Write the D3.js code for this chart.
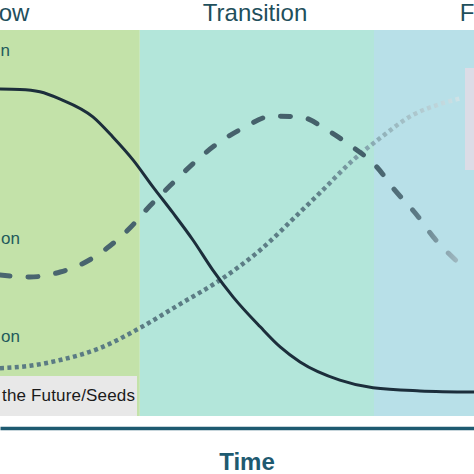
<!DOCTYPE html>
<html><head><meta charset="utf-8">
<script src="https://cdn.jsdelivr.net/npm/d3@7"></script>
<style>html,body{margin:0;padding:0;background:#fff;}svg{display:block;}</style>
</head><body>
<svg id="c" width="474" height="474"></svg>
<script>
// Phases (time domain 0..100 across visible width)
const phaseNames = ["ow", "Transition", "F"];
const phaseStart = [0, 29.5, 78.9];
const phaseEnd   = [29.5, 78.9, 100];
const phaseColors = ["#c3e2a9", "#b3e6da", "#b8e0e8"];
const phaseLabelX = [6.2, 53.8, 97];

// Curves (time, level 0..100)
const solidT = [0, 4.2, 8.4, 12.7, 19.6, 23.8, 28.1, 32.3, 36.5, 40.7, 44.9, 49.2, 54.9, 59.1, 63.3, 71.7, 78.7, 88.6, 100];
const solidV = [84.7, 84.6, 84.0, 82.1, 77.5, 72.3, 66.3, 59.3, 52.6, 45.6, 37.8, 30.8, 23.1, 17.9, 14.0, 9.3, 7.3, 6.5, 6.2];

const dashT = [0, 6.3, 12.7, 17.3, 22.6, 27.4, 31.6, 36.5, 41.1, 46.0, 51.3, 57.4, 63.3, 69.0, 73.8, 79.5, 83.3, 87.6, 91.4, 97.0];
const dashV = [36.5, 36.0, 37.3, 39.4, 43.5, 48.7, 54.4, 60.4, 65.8, 70.7, 74.6, 77.7, 77.5, 74.1, 70.2, 64.5, 58.5, 52.6, 46.4, 39.4];

const dotT = [0, 6.3, 12.7, 21.1, 29.5, 38.0, 46.4, 54.9, 63.3, 67.5, 74.5, 80.2, 87.1, 92.8, 97.5];
const dotV = [12.4, 13.0, 14.5, 17.6, 22.8, 29.0, 35.2, 43.0, 52.8, 57.8, 66.3, 72.0, 78.0, 80.8, 82.4];

const sideLabels = ["n", "on", "on"];
const sideLabelV = [93.3, 44.6, 19.2];
const seedsLabel = "the Future/Seeds";
const axisTitle = "Time";

const svg = d3.select("#c");
const W = 474, plotTop = 30, plotBottom = 416;
const x = d3.scaleLinear().domain([0, 100]).range([0, W]);
const y = d3.scaleLinear().domain([0, 100]).range([plotBottom, plotTop]);

// gradients
const defs = svg.append("defs");
function grad(id, stops) {
  const g = defs.append("linearGradient").attr("id", id)
    .attr("gradientUnits", "userSpaceOnUse")
    .attr("x1", 0).attr("x2", W).attr("y1", 0).attr("y2", 0);
  stops.forEach(s => g.append("stop").attr("offset", s[0]).attr("stop-color", s[1]));
}
grad("gDash", [[0, "#4a6670"], [0.78, "#44606a"], [0.88, "#5c7a85"], [0.97, "#a3bcc4"]]);
grad("gDot", [[0, "#5a7b83"], [0.66, "#5d7e86"], [0.8, "#8fb0b8"], [0.98, "#d4e6ea"]]);

// phase bands
svg.selectAll("rect.phase").data(phaseNames).enter().append("rect")
  .attr("class", "phase")
  .attr("x", (d, i) => x(phaseStart[i]))
  .attr("width", (d, i) => x(phaseEnd[i]) - x(phaseStart[i]))
  .attr("y", plotTop).attr("height", plotBottom - plotTop)
  .attr("fill", (d, i) => phaseColors[i]);

// phase titles
svg.selectAll("text.phase").data(phaseNames).enter().append("text")
  .attr("class", "phase")
  .attr("x", (d, i) => x(phaseLabelX[i]))
  .attr("y", 21)
  .attr("text-anchor", (d, i) => i === 0 ? "end" : (i === 1 ? "middle" : "start"))
  .attr("font-family", "Liberation Sans, Arial, sans-serif")
  .attr("font-size", 24)
  .attr("fill", "#1f4f5c")
  .text(d => d);

// right gray box
svg.append("rect").attr("x", 465).attr("y", 68).attr("width", 12).attr("height", 102)
  .attr("fill", "#dcdce6");

// curves
const line = d3.line().x(d => x(d[0])).y(d => y(d[1])).curve(d3.curveMonotoneX);
svg.append("path").datum(dotT.map((t, i) => [t, dotV[i]]))
  .attr("d", line).attr("fill", "none").attr("stroke", "url(#gDot)")
  .attr("stroke-width", 4.5).attr("stroke-dasharray", "4 3.4");
svg.append("path").datum(dashT.map((t, i) => [t, dashV[i]]))
  .attr("d", line).attr("fill", "none").attr("stroke", "url(#gDash)")
  .attr("stroke-width", 5).attr("stroke-linecap", "round").attr("stroke-dasharray", "10 18");
svg.append("path").datum(solidT.map((t, i) => [t, solidV[i]]))
  .attr("d", line).attr("fill", "none").attr("stroke", "#1c2e3b")
  .attr("stroke-width", 3);

// side labels
svg.selectAll("text.side").data(sideLabels).enter().append("text")
  .attr("class", "side")
  .attr("x", (d, i) => i === 0 ? 10 : 20)
  .attr("y", (d, i) => y(sideLabelV[i]))
  .attr("text-anchor", "end")
  .attr("font-family", "Liberation Sans, Arial, sans-serif")
  .attr("font-size", 17)
  .attr("fill", "#1f5a5c")
  .text(d => d);

// seeds box
svg.append("rect").attr("x", 0).attr("y", 376).attr("width", 137).attr("height", 40)
  .attr("fill", "#e8e8e8");
svg.append("text").attr("x", 2).attr("y", 401)
  .attr("font-family", "Liberation Sans, Arial, sans-serif")
  .attr("font-size", 17).attr("fill", "#1a1a1a").attr("textLength", 133)
  .text(seedsLabel);

// axis
const axis = d3.axisBottom(x).tickValues([]).tickSizeOuter(0);
const ag = svg.append("g").attr("transform", "translate(0,428)").call(axis);
ag.select(".domain").attr("stroke", "#1e5a70").attr("stroke-width", 3.5);

svg.append("text").attr("x", 247).attr("y", 470).attr("text-anchor", "middle")
  .attr("font-family", "Liberation Sans, Arial, sans-serif")
  .attr("font-size", 24).attr("font-weight", "bold").attr("fill", "#1e5a70")
  .text(axisTitle);
</script>
</body></html>
